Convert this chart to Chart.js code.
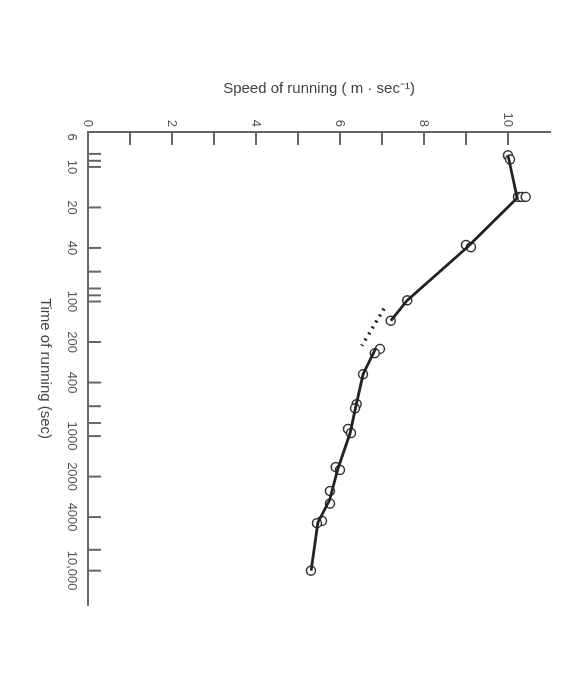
<!DOCTYPE html>
<html>
<head>
<meta charset="utf-8">
<script src="https://cdn.jsdelivr.net/npm/chart.js@4"></script>
<style>
  body { margin: 0; background: #fff; overflow: hidden; }
  #wrap {
    position: absolute; left: 0; top: 0;
    width: 700px; height: 588px;
    transform-origin: 0 0;
    transform: translate(588px, 0) rotate(90deg);
  }
</style>
</head>
<body>
<div id="wrap"><canvas id="chart"></canvas></div>
<script>
// time of running (sec) and speed (m/sec) of each record point
const recordTimes  = [8.2, 8.8, 16.7, 16.7, 16.7, 38, 39.5, 98, 139, 225, 242, 347, 579, 622, 885, 950, 1700, 1786, 2560, 3175, 4270, 4440, 10000];
const recordSpeeds = [10.0, 10.05, 10.24, 10.33, 10.42, 9.0, 9.12, 7.6, 7.21, 6.95, 6.83, 6.55, 6.4, 6.36, 6.19, 6.26, 5.9, 6.0, 5.76, 5.76, 5.57, 5.45, 5.31];

// solid fitted line, short range
const shortTimes  = [8.2, 17, 39, 98, 139];
const shortSpeeds = [10.0, 10.22, 9.05, 7.6, 7.21];

// solid fitted line, long range
const longTimes  = [223, 347, 600, 950, 1750, 3000, 4400, 10000];
const longSpeeds = [6.85, 6.55, 6.38, 6.24, 5.95, 5.75, 5.47, 5.31];

// dotted link between the two
const dotTimes  = [113, 213];
const dotSpeeds = [7.05, 6.52];

const timeTicks  = [6, 8, 9, 10, 20, 40, 60, 80, 90, 100, 200, 400, 600, 800, 1000, 2000, 4000, 7000, 10000];
const timeLabelValues = [6, 10, 20, 40, 100, 200, 400, 1000, 2000, 4000, 10000];
const timeLabelText   = ['6', '10', '20', '40', '100', '200', '400', '1000', '2000', '4000', '10,000'];

const speedTicks = [0, 1, 2, 3, 4, 5, 6, 7, 8, 9, 10];
const speedLabelValues = [0, 2, 4, 6, 8, 10];

function pts(xs, ys) {
    return xs.map((x, i) => ({ x: x, y: ys[i] }));
}

// ticks pointing into the plot
const innerTicks = {
    id: 'innerTicks',
    afterDatasetsDraw(chart) {
        const ctx = chart.ctx;
        const area = chart.chartArea;
        const len = 13;
        ctx.save();
        ctx.strokeStyle = '#666';
        ctx.lineWidth = 2;
        chart.scales.x.ticks.forEach(t => {
            const px = chart.scales.x.getPixelForValue(t.value);
            if (px - area.left < 8) return;
            ctx.beginPath();
            ctx.moveTo(px, area.bottom);
            ctx.lineTo(px, area.bottom - len);
            ctx.stroke();
        });
        chart.scales.y.ticks.forEach(t => {
            const py = chart.scales.y.getPixelForValue(t.value);
            if (area.bottom - py < 8) return;
            ctx.beginPath();
            ctx.moveTo(area.left, py);
            ctx.lineTo(area.left + len, py);
            ctx.stroke();
        });
        ctx.restore();
    }
};

const ink = '#222';
const grey = '#555';

const config = {
    type: 'scatter',
    data: {
        datasets: [
            {
                data: pts(shortTimes, shortSpeeds),
                showLine: true,
                borderColor: ink,
                borderWidth: 2.8,
                pointRadius: 0
            },
            {
                data: pts(longTimes, longSpeeds),
                showLine: true,
                borderColor: ink,
                borderWidth: 2.8,
                pointRadius: 0
            },
            {
                data: pts(dotTimes, dotSpeeds),
                showLine: true,
                borderColor: ink,
                borderWidth: 3.5,
                borderDash: [2, 5],
                pointRadius: 0
            },
            {
                data: pts(recordTimes, recordSpeeds),
                showLine: false,
                pointRadius: 4.5,
                pointBorderWidth: 1.5,
                pointBackgroundColor: '#fff',
                pointBorderColor: '#333'
            }
        ]
    },
    options: {
        responsive: true,
        maintainAspectRatio: false,
        animation: false,
        layout: {
            padding: { left: 74, right: 95, top: 38, bottom: 28 }
        },
        plugins: {
            legend: { display: false },
            tooltip: { enabled: false }
        },
        scales: {
            x: {
                type: 'logarithmic',
                min: 5.5,
                max: 18000,
                afterBuildTicks: (scale) => {
                    scale.ticks = timeTicks.map(v => ({ value: v }));
                },
                afterFit: (scale) => { scale.height = 60; },
                grid: { display: true, drawOnChartArea: false, drawTicks: false },
                border: { display: true, color: '#666', width: 2 },
                ticks: {
                    autoSkip: false,
                    maxRotation: 0,
                    padding: 9,
                    color: grey,
                    font: { family: 'Liberation Sans', size: 13 },
                    callback: (v) => {
                        const i = timeLabelValues.indexOf(v);
                        return i >= 0 ? timeLabelText[i] : '';
                    }
                },
                title: {
                    display: true,
                    text: 'Time of running (sec)',
                    color: '#444',
                    padding: { top: 4, bottom: 8 },
                    font: { family: 'Liberation Sans', size: 15 }
                }
            },
            y: {
                min: 0,
                max: 11,
                afterBuildTicks: (scale) => {
                    scale.ticks = speedTicks.map(v => ({ value: v }));
                },
                afterFit: (scale) => { scale.width = 58; },
                grid: { display: true, drawOnChartArea: false, drawTicks: false },
                border: { display: true, color: '#666', width: 2 },
                ticks: {
                    autoSkip: false,
                    padding: 5,
                    color: grey,
                    font: { family: 'Liberation Sans', size: 13 },
                    callback: (v) => speedLabelValues.includes(v) ? String(v) : ''
                },
                title: {
                    display: true,
                    text: 'Speed of running ( m · sec⁻¹)',
                    color: '#444',
                    padding: { top: 6, bottom: 4 },
                    font: { family: 'Liberation Sans', size: 15 }
                }
            }
        }
    },
    plugins: [innerTicks]
};

new Chart(document.getElementById('chart'), config);
</script>
</body>
</html>
